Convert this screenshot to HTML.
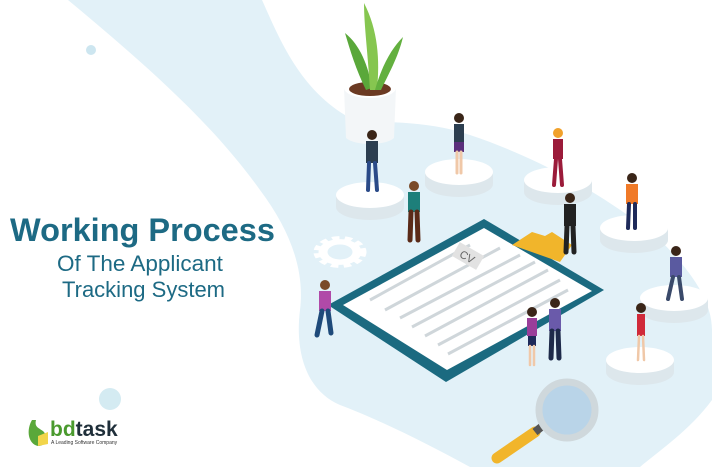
<!DOCTYPE html>
<html><head><meta charset="utf-8"><style>
html,body{margin:0;padding:0;background:#fff;}
#w{position:relative;width:712px;height:467px;overflow:hidden;background:#fff;font-family:"Liberation Sans",sans-serif;}
svg{position:absolute;left:0;top:0;}
.t{position:absolute;color:#1d6a84;white-space:nowrap;}
</style></head><body><div id="w">
<svg width="712" height="467" viewBox="0 0 712 467">
<path d="M68 0 L262 0 C280 40 300 90 350 118 C380 125 420 118 470 135 C530 155 600 190 660 240 C690 270 712 300 712 330 L712 400 C690 430 660 450 640 467 L470 467 C430 445 380 420 340 405 C305 390 295 350 300 310 C305 270 290 230 260 190 C210 120 140 60 68 0 Z" fill="#e2f1f8"/>
<circle cx="91" cy="50" r="5" fill="#cde6f0"/>
<circle cx="110" cy="399" r="11" fill="#d4ebf2"/>
<g transform="translate(340,252) scale(1,0.6)">
<circle r="22" fill="none" stroke="#fff" stroke-width="9" stroke-dasharray="7 5"/>
<circle r="17" fill="none" stroke="#fff" stroke-width="9"/>
</g>
<g>
<g transform="translate(370,195)"><rect x="-34" y="0" width="68" height="12" fill="#dde7ec"/><ellipse cy="12" rx="34" ry="13" fill="#dde7ec"/><ellipse rx="34" ry="13" fill="#fff"/></g>
<g transform="translate(459,172)"><rect x="-34" y="0" width="68" height="12" fill="#dde7ec"/><ellipse cy="12" rx="34" ry="13" fill="#dde7ec"/><ellipse rx="34" ry="13" fill="#fff"/></g>
<g transform="translate(558,180)"><rect x="-34" y="0" width="68" height="12" fill="#dde7ec"/><ellipse cy="12" rx="34" ry="13" fill="#dde7ec"/><ellipse rx="34" ry="13" fill="#fff"/></g>
<g transform="translate(634,228)"><rect x="-34" y="0" width="68" height="12" fill="#dde7ec"/><ellipse cy="12" rx="34" ry="13" fill="#dde7ec"/><ellipse rx="34" ry="13" fill="#fff"/></g>
<g transform="translate(674,298)"><rect x="-34" y="0" width="68" height="12" fill="#dde7ec"/><ellipse cy="12" rx="34" ry="13" fill="#dde7ec"/><ellipse rx="34" ry="13" fill="#fff"/></g>
<g transform="translate(640,360)"><rect x="-34" y="0" width="68" height="12" fill="#dde7ec"/><ellipse cy="12" rx="34" ry="13" fill="#dde7ec"/><ellipse rx="34" ry="13" fill="#fff"/></g>
</g>
<path d="M344 88 L396 88 L394 138 C385 146 355 146 346 138 Z" fill="#f3f6f8"/>
<ellipse cx="370" cy="88" rx="26" ry="10" fill="#fff"/>
<ellipse cx="370" cy="89" rx="21" ry="7" fill="#6b3a23"/>
<path d="M366 90 C356 70 350 50 345 33 C360 45 368 65 372 88 Z" fill="#5aa83a"/>
<path d="M370 90 C368 55 364 25 364 3 C378 30 380 60 377 90 Z" fill="#86c650"/>
<path d="M375 90 C382 65 392 48 403 37 C398 58 388 75 381 90 Z" fill="#63b03f"/>
<polygon points="328,305 484,219 604,290 446,382" fill="#1b6a80"/>
<polygon points="343,305 484,228 592,291 447,370" fill="#fff"/>
<g stroke="#cfd6da" stroke-width="3">
<line x1="370" y1="300" x2="470" y2="245"/><line x1="385" y1="310" x2="500" y2="248"/>
<line x1="400" y1="318" x2="520" y2="255"/><line x1="412" y1="327" x2="535" y2="262"/>
<line x1="425" y1="336" x2="548" y2="270"/><line x1="438" y1="345" x2="560" y2="280"/>
<line x1="448" y1="354" x2="568" y2="290"/>
</g>
<g transform="translate(468,256) rotate(30)"><rect x="-14" y="-8" width="28" height="16" fill="#e2e2e2"/><text x="-8" y="5" font-size="11" fill="#666" font-family="Liberation Sans">CV</text></g>
<path d="M512 245 L532 232 L545 236 L552 232 L572 245 L560 262 Z" fill="#f1b52b"/>
<g stroke-linecap="round">
<g transform="translate(372,135)"><circle r="5" fill="#3a2518"/><rect x="-6" y="6" width="12" height="22" fill="#2c3e50"/><path d="M-3 28 L-4 55 M3 28 L5 55" stroke="#2a4a88" stroke-width="4"/></g>
<g transform="translate(459,118)"><circle r="5" fill="#3a2518"/><rect x="-5" y="6" width="10" height="20" fill="#2c3e50"/><rect x="-5" y="24" width="10" height="10" fill="#5a2f7c"/><path d="M-2 34 L-2 55 M2 34 L2 55" stroke="#f0c8a8" stroke-width="3"/></g>
<g transform="translate(558,133)"><circle r="5" fill="#f1a12b"/><rect x="-5" y="6" width="10" height="20" fill="#9b1b3a"/><path d="M-2 26 L-4 52 M2 26 L4 52" stroke="#9b1b3a" stroke-width="4"/></g>
<g transform="translate(632,178)"><circle r="5" fill="#3a2518"/><rect x="-6" y="6" width="12" height="20" fill="#f07a28"/><path d="M-3 26 L-4 50 M3 26 L3 50" stroke="#1e2a5a" stroke-width="4"/></g>
<g transform="translate(676,251)"><circle r="5" fill="#3a2518"/><rect x="-6" y="6" width="12" height="20" fill="#5a5aa0"/><path d="M-3 26 L-8 48 M3 26 L6 48" stroke="#3a4a6a" stroke-width="4"/></g>
<g transform="translate(641,308)"><circle r="5" fill="#3a2518"/><rect x="-4" y="6" width="8" height="22" fill="#d02a3a"/><path d="M-2 28 L-3 52 M2 28 L3 52" stroke="#f0c8a8" stroke-width="2.5"/></g>
<g transform="translate(414,186)"><circle r="5" fill="#7a4a28"/><rect x="-6" y="6" width="12" height="20" fill="#1d7f7a"/><path d="M-3 26 L-4 54 M3 26 L4 54" stroke="#5a2a18" stroke-width="5"/></g>
<g transform="translate(570,198)"><circle r="5" fill="#3a2518"/><rect x="-6" y="6" width="12" height="22" fill="#222"/><path d="M-3 28 L-4 54 M3 28 L4 54" stroke="#222" stroke-width="5"/></g>
<g transform="translate(325,285)"><circle r="5" fill="#7a4a28"/><rect x="-6" y="6" width="12" height="20" fill="#b04aa8"/><path d="M-3 26 L-8 50 M3 26 L6 48" stroke="#1e4a7a" stroke-width="5"/></g>
<g transform="translate(532,312)"><circle r="5" fill="#3a2518"/><rect x="-5" y="6" width="10" height="18" fill="#9a3e9a"/><rect x="-4" y="24" width="8" height="10" fill="#1e2a5a"/><path d="M-2 34 L-2 53 M2 34 L2 53" stroke="#f0c8a8" stroke-width="2.5"/></g>
<g transform="translate(555,303)"><circle r="5" fill="#3a2518"/><rect x="-6" y="6" width="12" height="22" fill="#6a5aaa"/><path d="M-3 28 L-4 55 M3 28 L4 55" stroke="#1e2a4a" stroke-width="5"/></g>
</g>
<path d="M535 432 L497 458" stroke="#f1b52b" stroke-width="11" stroke-linecap="round"/>
<path d="M545 424 L535 432" stroke="#555" stroke-width="8"/>
<circle cx="567" cy="410" r="28" fill="#b9d4e8" stroke="#cfd8dc" stroke-width="7"/>
<path d="M32 420 C26 430 28 444 38 446 C46 446 48 438 44 432 C40 428 34 428 36 420 Z" fill="#5aa83a"/>
<path d="M38 436 L48 432 L48 444 L38 446 Z" fill="#f2d54a"/>
</svg>
<div class="t" style="left:10px;top:212px;font-size:32.5px;font-weight:bold;letter-spacing:0px;">Working Process</div>
<div class="t" style="left:57px;top:251px;font-size:22.5px;">Of The Applicant</div>
<div class="t" style="left:62px;top:277px;font-size:22px;">Tracking System</div>
<div class="t" style="left:50px;top:418px;font-size:21px;font-weight:bold;color:#1f2f3a;"><span style="color:#4a9a2e">bd</span>task</div>
<div class="t" style="left:51px;top:440px;font-size:5px;color:#333;">A Leading Software Company</div>
</div></body></html>
